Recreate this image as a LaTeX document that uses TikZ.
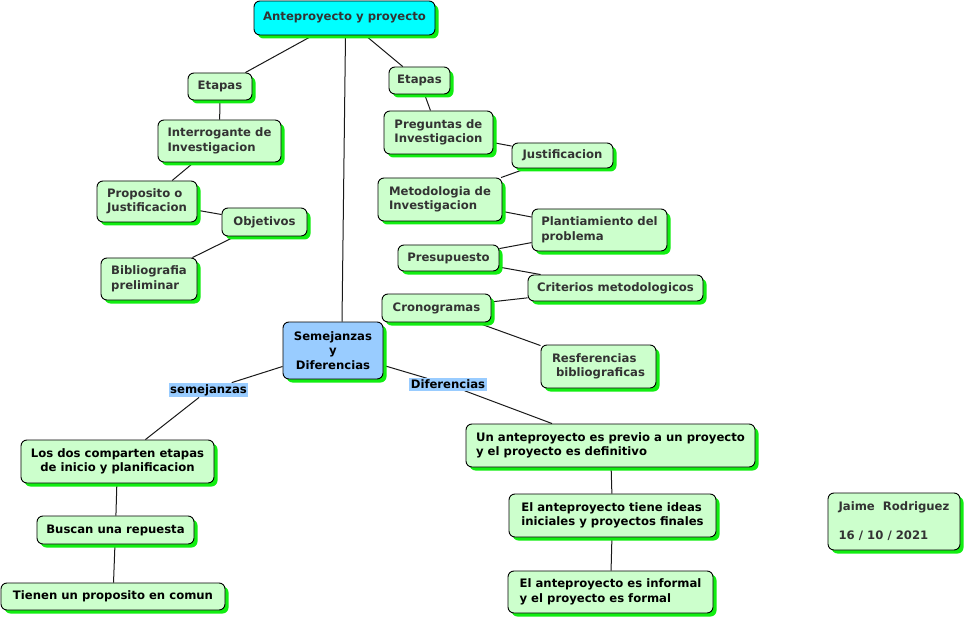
\documentclass[tikz,border=0pt]{standalone}
\usepackage{fontspec}
\setmainfont{DejaVu Sans}
\usetikzlibrary{shadows,backgrounds}
\definecolor{boxfill}{HTML}{CCFFCC}
\definecolor{topfill}{HTML}{00FFFF}
\definecolor{semfill}{HTML}{99CCFF}
\definecolor{shadowgreen}{HTML}{11EE11}
\definecolor{textgray}{HTML}{333333}
\begin{document}
\begin{tikzpicture}[x=1bp,y=-1bp,
  box/.style={draw=black, line width=0.9bp, rounded corners=6bp, fill=boxfill,
    font=\fontsize{11.7}{14.5}\selectfont\bfseries, text=textgray, inner sep=0pt,
    drop shadow={shadow xshift=3.5bp, shadow yshift=-3.5bp, fill=shadowgreen, opacity=1}},
  dark/.style={text=black},
  lbl/.style={fill=semfill, inner sep=1.5bp, font=\fontsize{11.7}{14.5}\selectfont\bfseries, text=black},
  conn/.style={draw=black!90, line width=1bp}
]
\useasboundingbox (0,0) rectangle (966,621);

\node[box, fill=topfill, minimum width=181bp, minimum height=34bp] (ante) at (344.5,18) {Anteproyecto y proyecto};
\node[box, minimum width=64bp, minimum height=27bp] (et1) at (220,86.5) {Etapas};
\node[box, minimum width=61bp, minimum height=27bp] (et2) at (419.5,80.5) {Etapas};
\node[box, align=left, minimum width=123bp, minimum height=42bp] (inter) at (219.5,141) {Interrogante de\\Investigacion};
\node[box, align=left, minimum width=100bp, minimum height=41bp] (prop) at (147,201.5) {Proposito o\\Justificacion};
\node[box, minimum width=85bp, minimum height=28bp] (obj) at (264.5,222) {Objetivos};
\node[box, align=left, minimum width=96bp, minimum height=42bp] (bib) at (149,279) {Bibliografia\\preliminar};
\node[box, align=left, minimum width=109bp, minimum height=43bp] (preg) at (438.5,132.5) {Preguntas de\\Investigacion};
\node[box, minimum width=101bp, minimum height=25bp] (just) at (562.5,155.5) {Justificacion};
\node[box, align=left, minimum width=124bp, minimum height=43bp] (met) at (440,199.5) {Metodologia de\\Investigacion};
\node[box, align=left, minimum width=135bp, minimum height=42bp] (plan) at (599.5,230) {Plantiamiento del\\problema};
\node[box, minimum width=101bp, minimum height=26bp] (pres) at (448.5,258) {Presupuesto};
\node[box, minimum width=175bp, minimum height=26bp] (crit) at (615.5,288) {Criterios metodologicos};
\node[box, minimum width=109bp, minimum height=28bp] (cron) at (436.5,308) {Cronogramas};
\node[box, align=left, minimum width=115bp, minimum height=43bp] (resf) at (598.5,366.5) {Resferencias\\\hspace*{4bp}bibliograficas};
\node[box, dark, fill=semfill, align=center, minimum width=100bp, minimum height=57bp] (sem) at (333,350.5) {Semejanzas\\y\\Diferencias};
\node[box, dark, align=center, minimum width=193bp, minimum height=43bp] (dos) at (117.5,461.5) {Los dos comparten etapas\\de inicio y planificacion};
\node[box, dark, minimum width=157bp, minimum height=28bp] (bus) at (115.5,530) {Buscan una repuesta};
\node[box, dark, minimum width=224bp, minimum height=27bp] (tien) at (113,596.5) {Tienen un proposito en comun};
\node[box, dark, align=left, minimum width=289bp, minimum height=43bp] (un) at (610.5,445.5) {Un anteproyecto es previo a un proyecto\\y el proyecto es definitivo};
\node[box, dark, align=left, minimum width=207bp, minimum height=43bp] (eltiene) at (612.5,515.5) {El anteproyecto tiene ideas\\iniciales y proyectos finales};
\node[box, dark, align=left, minimum width=205bp, minimum height=42bp] (elinf) at (610.5,592) {El anteproyecto es informal\\y el proyecto es formal};
\node[box, align=left, minimum width=132bp, minimum height=57bp] (jaime) at (894,521.5) {Jaime\ \ Rodriguez\\[14.5bp]16 / 10 / 2021};

\node[lbl] (lsem) at (208.5,390) {semejanzas};
\node[lbl] (ldif) at (448,384.5) {Diferencias};

\begin{pgfonlayer}{background}
\fill[white] (0,0) rectangle (966,621);
\draw[conn] (ante) -- (et1);
\draw[conn] (ante) -- (et2);
\draw[conn] ([xshift=1bp]ante.south) -- ([xshift=9bp]sem.north);
\draw[conn] (et1) -- (inter);
\draw[conn] (inter) -- (prop);
\draw[conn] (prop) -- (obj);
\draw[conn] (obj) -- (bib);
\draw[conn] (et2) -- (preg);
\draw[conn] (preg) -- (just);
\draw[conn] (just) -- (met);
\draw[conn] (met) -- (plan);
\draw[conn] (plan) -- (pres);
\draw[conn] (pres) -- (crit);
\draw[conn] (crit) -- (cron);
\draw[conn] (cron) -- (resf);
\draw[conn] (sem) -- (lsem) -- (dos);
\draw[conn] (sem) -- (ldif) -- (un);
\draw[conn] (dos) -- (bus);
\draw[conn] (bus) -- (tien);
\draw[conn] (un) -- (eltiene);
\draw[conn] (eltiene) -- (elinf);
\end{pgfonlayer}
\end{tikzpicture}
\end{document}
